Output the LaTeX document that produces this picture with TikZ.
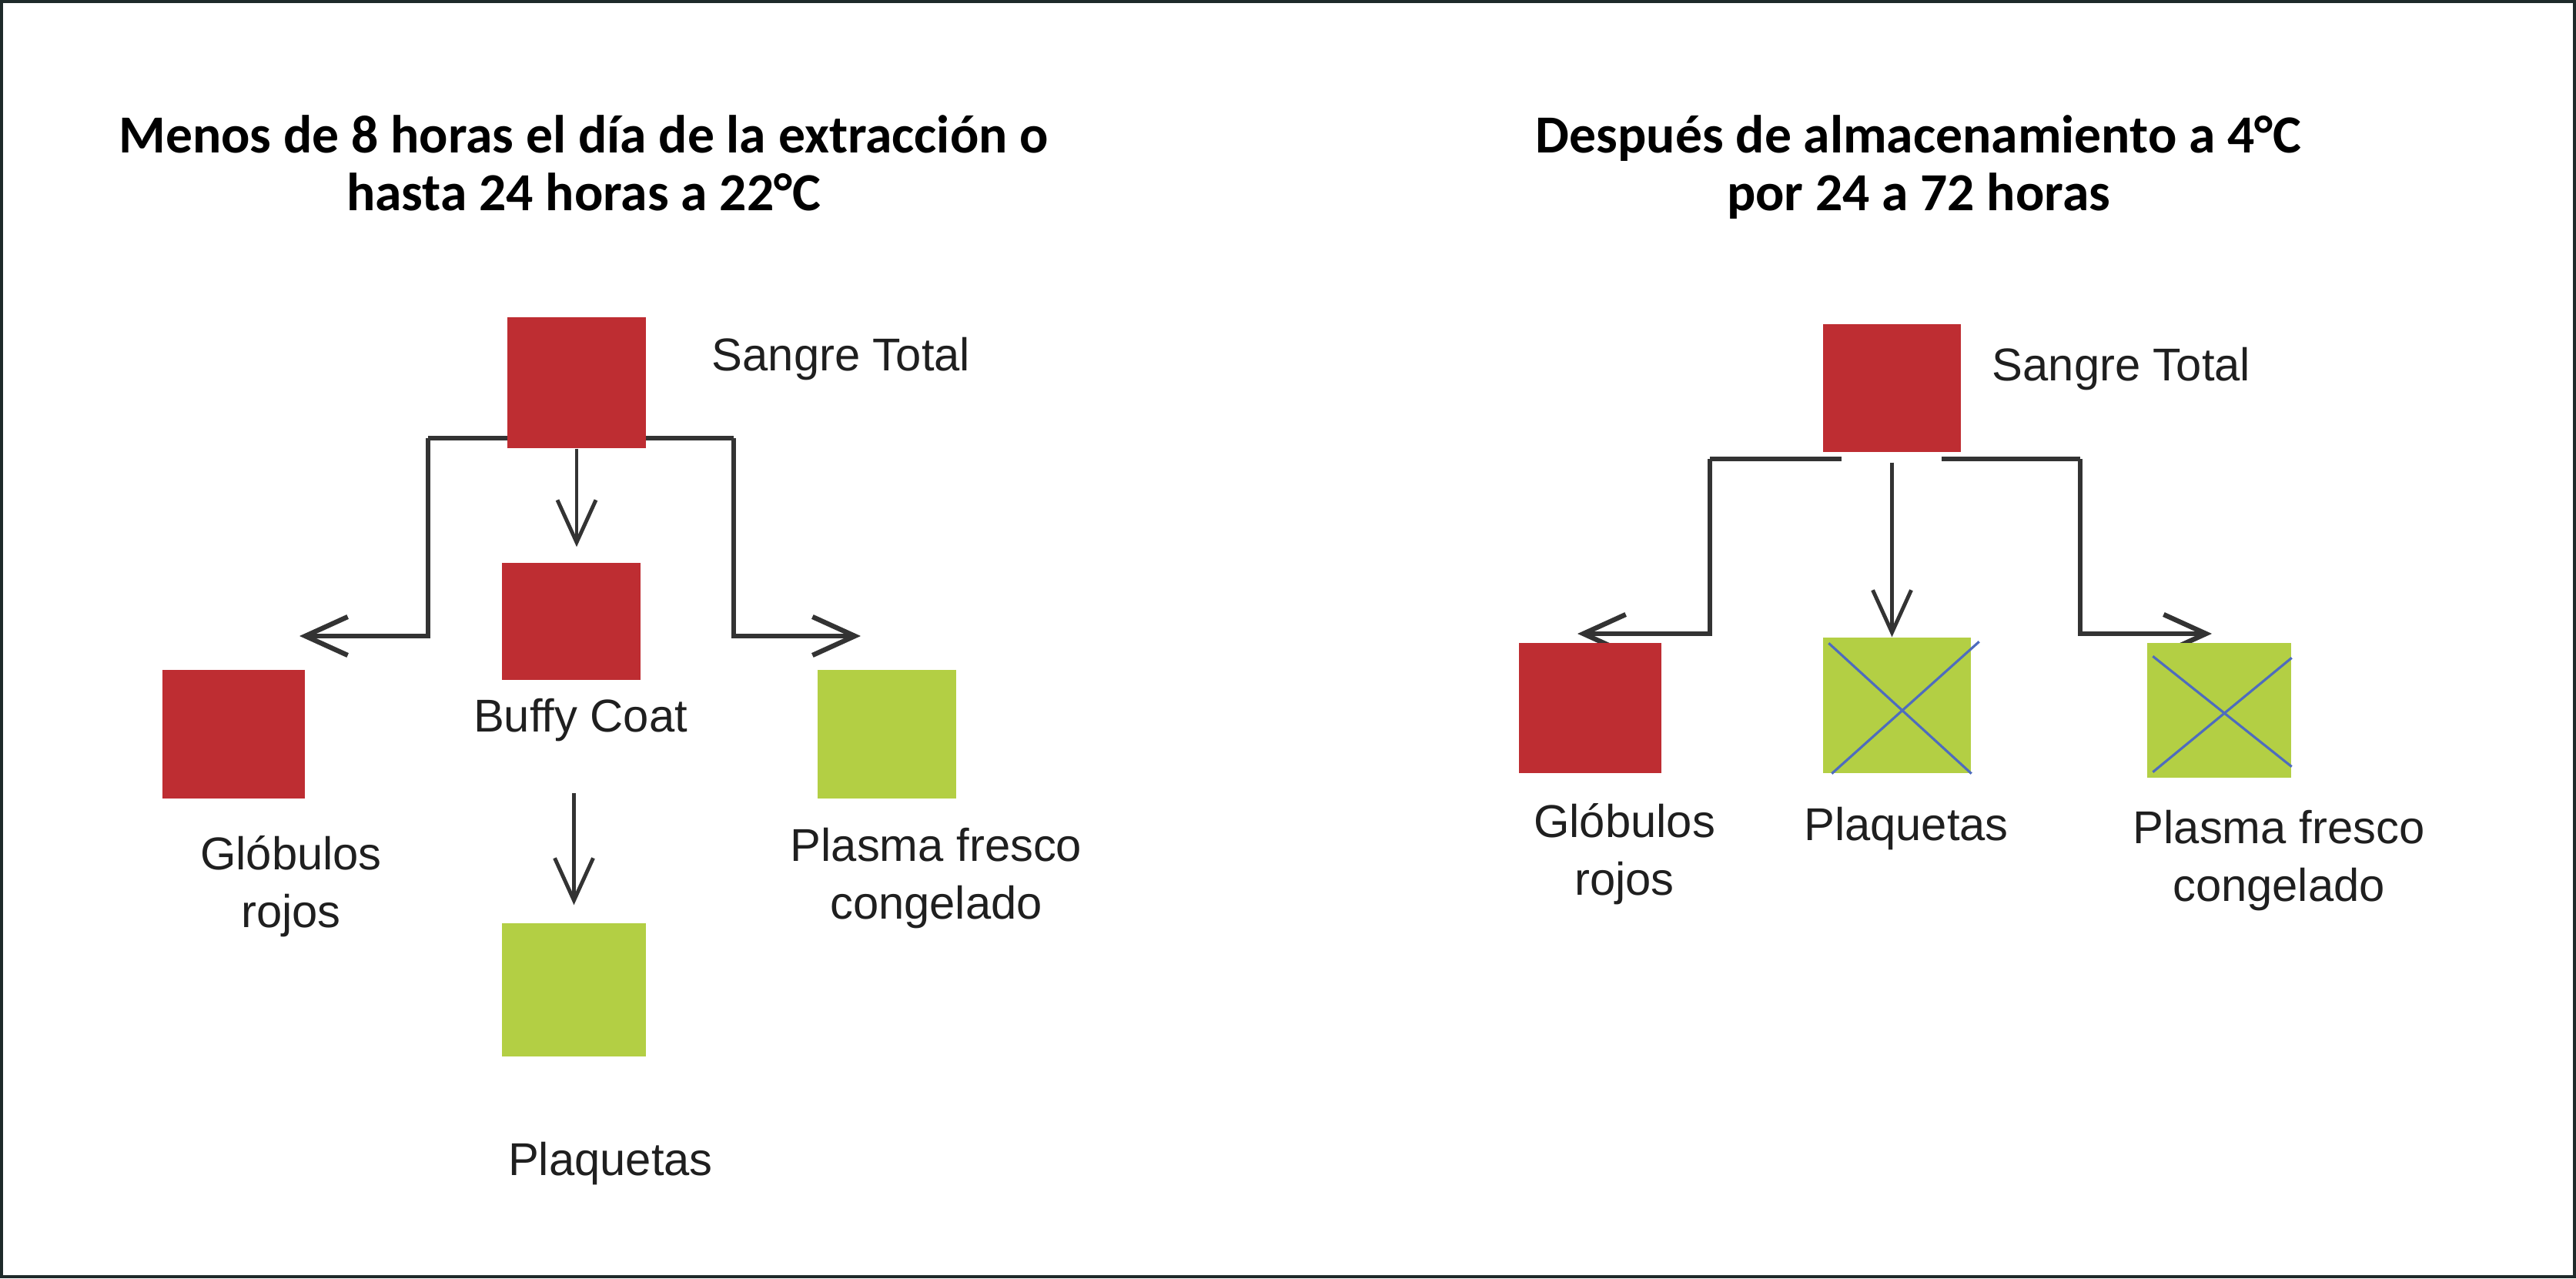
\documentclass[tikz,border=0pt]{standalone}
\usepackage{fontspec}
\setmainfont{Liberation Sans}
\newfontfamily\titlefont{Carlito}
\usetikzlibrary{arrows.meta}

\definecolor{bloodred}{RGB}{190,45,50}
\definecolor{plasmagreen}{RGB}{179,207,68}
\definecolor{crossblue}{RGB}{78,108,190}
\definecolor{framegray}{RGB}{30,42,42}

\tikzset{
	unit/.style={inner sep=0pt, minimum width=1.8cm, minimum height=1.7cm},
	redunit/.style={unit, fill=bloodred},
	greenunit/.style={unit, fill=plasmagreen},
	tag/.style={inner sep=0pt, align=center, text=black!88, font=\fontsize{17}{21.5}\selectfont},
	heading/.style={inner sep=0pt, align=center, font=\titlefont\bfseries\fontsize{19.8}{21.6}\selectfont},
	link/.style={black!80, line width=1.8pt},
	arr/.style={-{Straight Barb[length=5.5mm, width=5mm]}},
	cross/.style={crossblue, line width=0.9pt},
}

\begin{document}
\begin{tikzpicture}
	
	\useasboundingbox (0,0) rectangle (33.46,16.60);
	\draw[framegray, line width=0.04cm] (0.02,0.02) rectangle (33.44,16.58);
	
	\node[heading, anchor=base] (h1) at (7.58,13.86) {Menos de 8 horas el día de la extracción o\\hasta 24 horas a 22°C};
	\node[heading, anchor=base] (h2) at (24.92,13.86) {Después de almacenamiento a 4°C\\por 24 a 72 horas};
	
	\coordinate (jl1) at (5.56,10.91);
	\coordinate (jr1) at (9.53,10.91);
	\coordinate (el1) at (3.89,8.34);
	\coordinate (er1) at (11.18,8.34);
	\draw[link] (jl1) -- (jr1);
	\draw[link, arr] (jl1) |- (el1);
	\draw[link, arr] (jr1) |- (er1);
	
	\node[redunit] (st1) at (7.49,11.63) {};
	\node[redunit, minimum height=1.52cm] (bc1) at (7.42,8.53) {};
	\node[redunit, minimum width=1.85cm, minimum height=1.67cm] (gr1) at (3.035,7.065) {};
	\node[greenunit, minimum height=1.67cm] (pf1) at (11.52,7.065) {};
	\node[greenunit, minimum width=1.87cm, minimum height=1.73cm] (pl1) at (7.455,3.745) {};
	
	\node[tag, anchor=base west] (stt1) at (9.24,11.78) {Sangre Total};
	\node[tag, anchor=base] (bct1) at (7.54,7.09) {Buffy Coat};
	\node[tag, anchor=base] (grt1) at (3.78,4.55) {Glóbulos\\rojos};
	\node[tag, anchor=base] (pft1) at (12.16,4.66) {Plasma fresco\\congelado};
	\node[tag, anchor=base] (plt1) at (7.93,1.33) {Plaquetas};
	
	\draw[link, line width=1.4pt, arr, shorten >=2mm] (st1.south) -- (st1.south |- bc1.north);
	\draw[link, line width=1.4pt, arr, shorten <=6.6mm, shorten >=2.3mm] (bct1.south -| pl1.north) -- (pl1.north);
	
	\coordinate (jl2) at (22.21,10.64);
	\coordinate (gl2) at (23.92,10.64);
	\coordinate (gr2) at (25.22,10.64);
	\coordinate (jr2) at (27.02,10.64);
	\coordinate (el2) at (20.49,8.37);
	\coordinate (er2) at (28.73,8.37);
	\draw[link] (gl2) -- (jl2);
	\draw[link] (gr2) -- (jr2);
	\draw[link, arr] (jl2) |- (el2);
	\draw[link, arr] (jr2) |- (er2);
	
	\node[redunit, minimum width=1.79cm, minimum height=1.66cm] (st2) at (24.575,11.56) {};
	\node[redunit, minimum width=1.85cm, minimum height=1.69cm] (rb2) at (20.655,7.405) {};
	\node[greenunit, minimum width=1.92cm, minimum height=1.76cm] (pl2) at (24.64,7.44) {};
	\node[greenunit, minimum width=1.87cm, minimum height=1.75cm] (pf2) at (28.825,7.375) {};
	
	\draw[cross] ([shift={(0.08,-0.08)}]pl2.north west) -- (pl2.south east);
	\draw[cross] ([shift={(0.1,-0.06)}]pl2.north east) -- ([xshift=0.12cm]pl2.south west);
	\draw[cross] ([shift={(0.08,-0.18)}]pf2.north west) -- ([yshift=0.15cm]pf2.south east);
	\draw[cross] ([yshift=-0.2cm]pf2.north east) -- ([shift={(0.08,0.08)}]pf2.south west);
	
	\draw[link, line width=1.4pt, arr, shorten <=1.3mm] (st2.south) -- (st2.south |- pl2.north);
	
	\node[tag, anchor=base west] (stt2) at (25.87,11.65) {Sangre Total};
	\node[tag, anchor=base] (grt2) at (21.10,4.97) {Glóbulos\\rojos};
	\node[tag, anchor=base] (plt2) at (24.76,5.68) {Plaquetas};
	\node[tag, anchor=base] (pft2) at (29.60,4.89) {Plasma fresco\\congelado};
	
\end{tikzpicture}
\end{document}
